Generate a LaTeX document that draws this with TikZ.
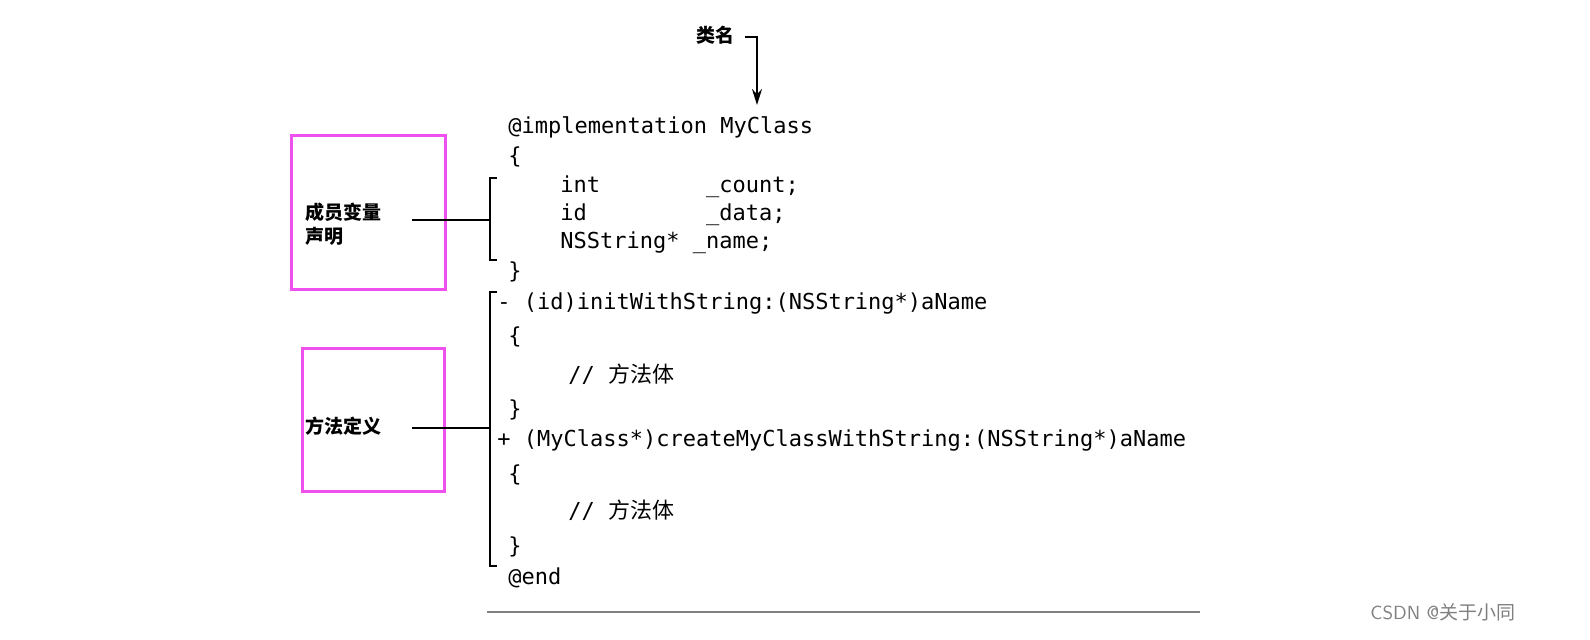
\documentclass[tikz,border=0pt]{standalone}
\usepackage{fontspec}
\setmonofont{DejaVu Sans Mono}
\newfontfamily\cjk{Noto Sans CJK SC}
\usetikzlibrary{arrows.meta}
\tikzset{code/.style={anchor=west,inner sep=0pt,font=\fontsize{11}{13}\ttfamily},
lab/.style={anchor=west,inner sep=0pt,font=\fontsize{9.5}{12}\cjk\bfseries,align=left},
mbox/.style={draw={rgb,255:red,240;green,80;blue,240},line width=1.5pt},
brk/.style={line width=1pt}}
\begin{document}
\begin{tikzpicture}[x=0.5pt,y=-0.5pt]
\useasboundingbox[fill=white] (0,0) rectangle (1590,640);
\node[code] (l1) at (508,127) {@implementation MyClass};
\node[code] at (508,157) {\{};
\node[code] at (560,187) {int\ \ \ \ \ \ \ \ \_count;};
\node[code] at (560,215) {id\ \ \ \ \ \ \ \ \ \_data;};
\node[code] at (560,243) {NSString* \_name;};
\node[code] at (508,272) {\}};
\node[code] at (497,304) {- (id)initWithString:(NSString*)aName};
\node[code] at (508,337) {\{};
\node[code] at (568,374) {// {\cjk 方法体}};
\node[code] at (508,410) {\}};
\node[code] at (497,440) {+ (MyClass*)createMyClassWithString:(NSString*)aName};
\node[code] at (508,475) {\{};
\node[code] at (568,510) {// {\cjk 方法体}};
\node[code] at (508,547) {\}};
\node[code] at (508,578) {@end};
\node[lab] (cm) at (696,35) {类名};
\coordinate (tt) at (745,37);
\coordinate (ta) at (757,37);
\coordinate (tb) at (757,105);
\draw[brk,-{Stealth[length=8pt,width=5pt]}] (tt) -- (ta) -- (tb);
\draw[mbox] (291,136) rectangle (445,290);
\draw[mbox] (302,349) rectangle (444,492);
\node[lab] (v) at (305,224) {成员变量\\声明};
\node[lab] (m) at (305,426) {方法定义};
\coordinate (b1) at (490,220);
\coordinate (b2) at (490,428);
\draw[brk] (497,178) -- (490,178) -- (490,260) -- (497,260);
\draw[brk] (412,220) -- (b1);
\draw[brk] (497,292) -- (490,292) -- (490,566) -- (497,566);
\draw[brk] (412,428) -- (b2);
\draw[gray,line width=0.8pt] (487,612) -- (1200,612);
\node[anchor=west,inner sep=0pt,text=gray,font=\fontsize{9.5}{11}\sffamily] at (1370,612) {CSDN @{\cjk 关于小同}};
\end{tikzpicture}
\end{document}
